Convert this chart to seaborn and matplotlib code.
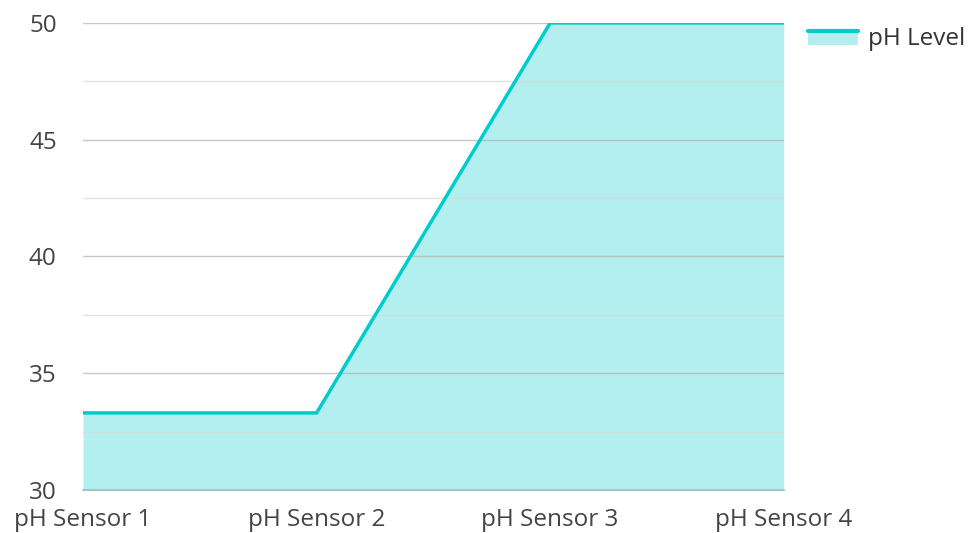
import pandas as pd
import matplotlib
matplotlib.use("Agg")
import matplotlib.pyplot as plt
import seaborn as sns
from matplotlib.patches import Rectangle
from matplotlib.lines import Line2D
from matplotlib.legend_handler import HandlerBase
from matplotlib.ticker import MultipleLocator

# Дані
sensors = ["pH Sensor 1", "pH Sensor 2", "pH Sensor 3", "pH Sensor 4"]
ph_level = [33.3, 33.3, 50, 50]

df = pd.DataFrame({"Sensor": sensors, "pH": ph_level})
df["pos"] = range(len(sensors))

sns.set_style("white")
plt.rcParams["font.family"] = ["Open Sans", "DejaVu Sans"]

line_color = "#00cccc"
fill_color = "#b2efee"


class AreaHandler(HandlerBase):
    # лінія зверху, заливка під нею
    def create_artists(self, legend, orig_handle, xdescent, ydescent, width, height, fontsize, trans):
        rect = Rectangle((-xdescent, -ydescent), width, height * 0.8,
                         facecolor=fill_color, edgecolor="none", transform=trans)
        line = Line2D([-xdescent, -xdescent + width], [-ydescent + height * 0.8] * 2,
                      color=line_color, lw=3, transform=trans)
        return [rect, line]


fig = plt.figure(figsize=(9.7, 5.33), dpi=100)
ax = fig.add_axes([0.0856, 0.0807, 0.7224, 0.8763])

ax.fill_between(df["pos"], 30, df["pH"], color=fill_color, lw=0, zorder=1)
sns.lineplot(data=df, x="pos", y="pH", color=line_color, linewidth=2.5, ax=ax, zorder=3)

ax.set_xlim(0, 3)
ax.set_ylim(30, 50)
ax.yaxis.set_major_locator(MultipleLocator(5))
ax.yaxis.set_minor_locator(MultipleLocator(2.5))
ax.set_xticks(df["pos"])
ax.set_xticklabels(sensors)
ax.grid(axis="y", which="major", color="#b0b0b0", alpha=0.7, lw=1, zorder=2)
ax.grid(axis="y", which="minor", color="#d8d8d8", alpha=0.7, lw=1, zorder=2)
ax.axhline(30, color="#9cc9c9", lw=1.5, zorder=2, clip_on=False)
ax.set_axisbelow(False)
ax.tick_params(axis="both", which="both", length=0, labelsize=17.5, colors="#444444")
ax.tick_params(axis="y", pad=19)
ax.tick_params(axis="x", pad=13)
ax.set_xlabel("")
ax.set_ylabel("")
for s in ax.spines.values():
    s.set_visible(False)

ax.legend([object()], ["pH Level"], handler_map={object: AreaHandler()},
          loc="upper left", bbox_to_anchor=(1.003, 1.039), frameon=False,
          fontsize=17.5, handlelength=2.05, handletextpad=0.42, labelcolor="#333333")

fig.savefig("out.png", dpi=100)
